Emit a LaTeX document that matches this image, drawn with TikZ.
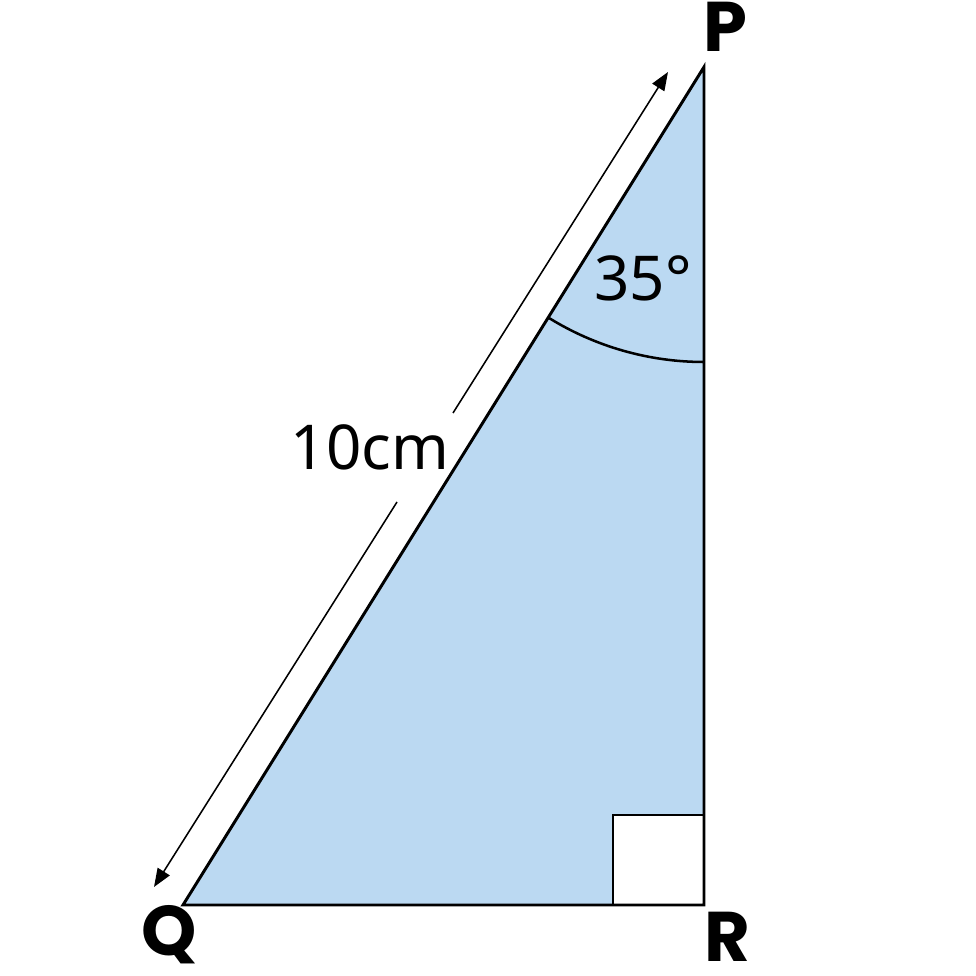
\documentclass[tikz,border=0pt]{standalone}
\usepackage{fontspec}
\setmainfont{Noto Sans}
\newfontfamily\labelfont{Poppins}[UprightFont=* Bold]
\usetikzlibrary{arrows.meta,calc}
\definecolor{tri}{HTML}{BBD9F2}
\tikzset{
  edge/.style={line width=2.1pt, line join=miter},
  dim/.style={line width=1.1pt, -{Triangle[length=13pt,width=10pt]}},
  vert/.style={font=\labelfont\fontsize{50}{50}\selectfont, inner sep=0pt, anchor=base},
  meas/.style={font=\fontsize{44}{44}\selectfont, inner sep=0pt}
}
\begin{document}
\begin{tikzpicture}[x=0.025cm,y=0.025cm]
\useasboundingbox (0,0) rectangle (976,976);
\coordinate (P) at (704,909);
\coordinate (Q) at (183,71);
\coordinate (R) at (704,71);
\fill[tri] (P) -- (Q) -- (R) -- cycle;
% right angle square
\coordinate (S1) at (613,71);
\coordinate (S2) at (704,161);
\filldraw[fill=white, line width=1.8pt] (S1) rectangle (S2);
% angle arc
\coordinate (A0) at (704,614);
\draw[line width=1.8pt] (A0) arc[start angle=270, end angle=238.13, radius=7.375cm];
\draw[edge] (P) -- (Q) -- (R) -- cycle;
% dimension line
\coordinate (a1) at (668,904);
\coordinate (a2) at (154,89);
\coordinate (g1) at (453,563);
\coordinate (g2) at (397,474);
\draw[dim] (g1) -- (a1);
\draw[dim] (g2) -- (a2);
\node[meas] (len) at (370,529) {10cm};
\node[meas] (ang) at (643,698) {35°};
\node[vert] (lP) at (725,924) {P};
\node[vert] (lQ) at (169,21) {Q};
\node[vert] (lR) at (727,15) {R};
\end{tikzpicture}
\end{document}
